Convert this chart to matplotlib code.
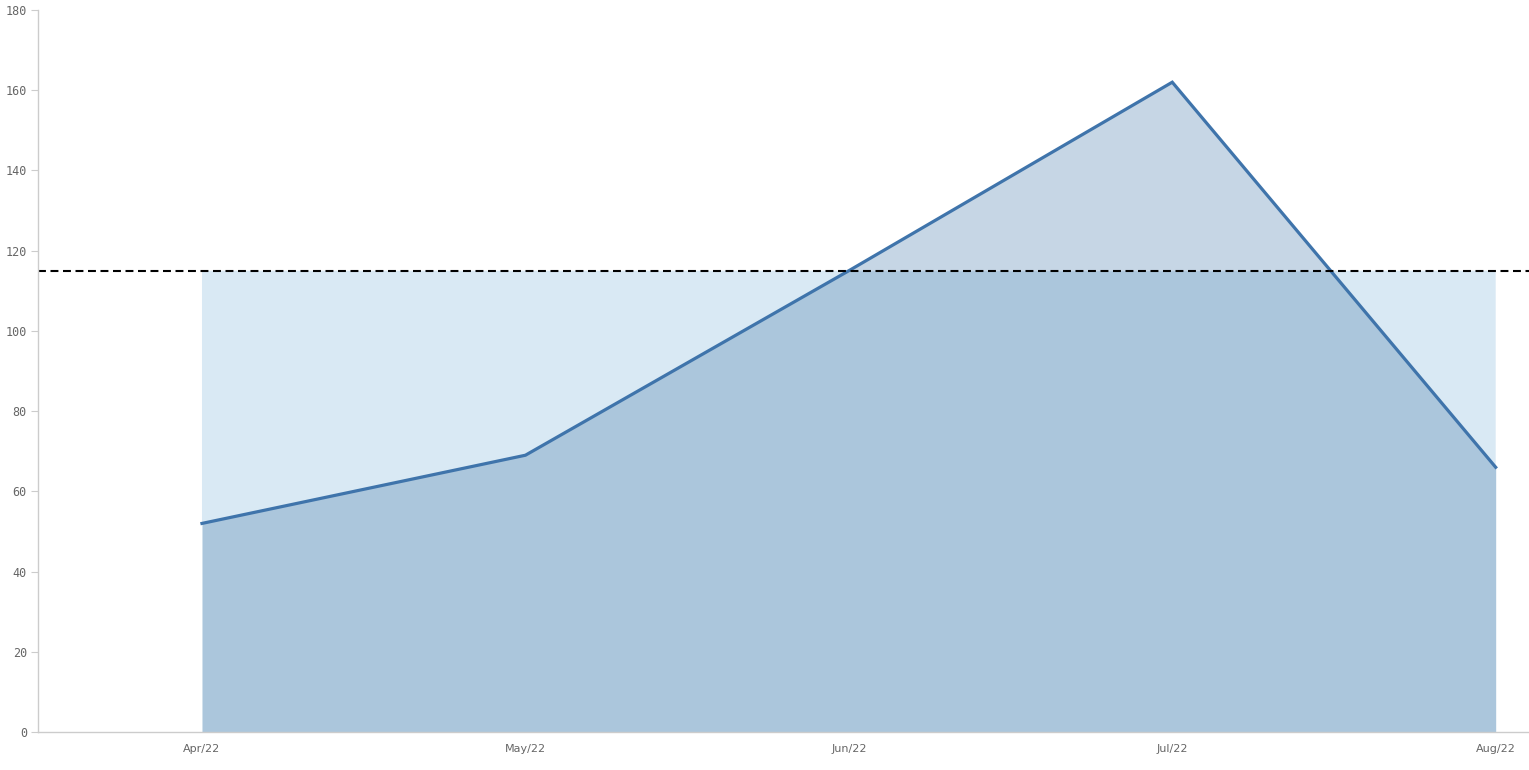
import numpy as np
import matplotlib
matplotlib.use("Agg")
import matplotlib.pyplot as plt

months = ["Apr/22", "May/22", "Jun/22", "Jul/22", "Aug/22"]
values = [52, 69, 115, 162, 66]
reference = 115
y_ticks = [0, 20, 40, 60, 80, 100, 120, 140, 160, 180]

x = np.arange(len(months))
y = np.array(values, dtype=float)
ref = np.full_like(y, reference)

fig = plt.figure(figsize=(15.29, 7.70), dpi=100)
ax = fig.add_axes([38/1529, 38/770, 1 - 38/1529, 722/770])

# area fills
ax.fill_between(x, 0, y, color="#abc6dc", linewidth=0)
ax.fill_between(x, ref, y, where=y >= ref, interpolate=True, color="#c6d6e5", linewidth=0)
ax.fill_between(x, y, ref, where=y <= ref, interpolate=True, color="#d9e9f4", linewidth=0)

ax.plot(x, y, color="#3f74ab", linewidth=2.3, solid_joinstyle="miter")
ax.axhline(reference, color="black", linewidth=1.5, dashes=(3.8, 2.2))

ax.set_xlim(-0.507, 4.103)
ax.set_ylim(0, 180)
ax.set_yticks(y_ticks)
ax.set_xticks(x)
ax.set_xticklabels(months)

for s in ["top", "right"]:
    ax.spines[s].set_visible(False)
for s in ["left", "bottom"]:
    ax.spines[s].set_color("#cccccc")
    ax.spines[s].set_linewidth(1)

ax.tick_params(axis="y", length=5, color="#cccccc", labelsize=8.5, labelcolor="#666666", pad=3)
ax.tick_params(axis="x", length=0, labelsize=8, labelcolor="#666666", pad=9)
for lab in ax.get_yticklabels():
    lab.set_family("DejaVu Sans Mono")

fig.savefig("out.png", dpi=100)
